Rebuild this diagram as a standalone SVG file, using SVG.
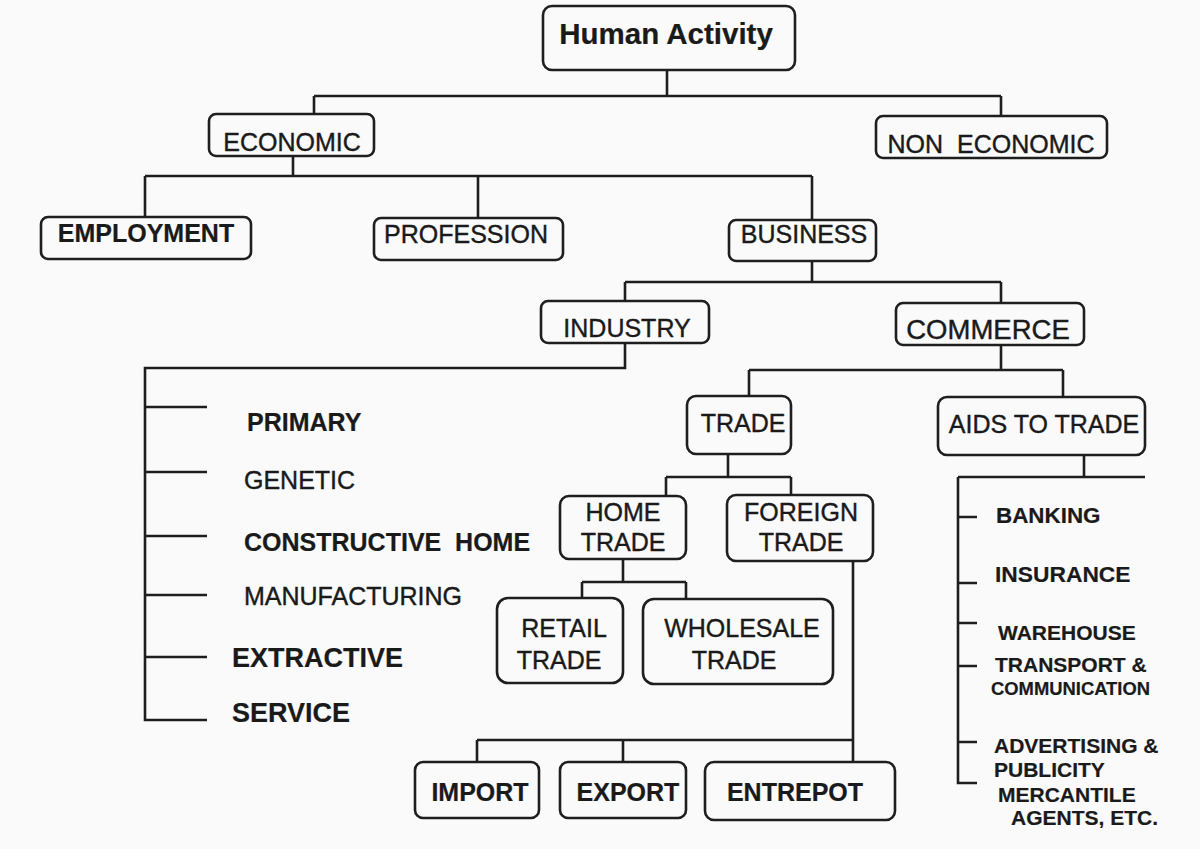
<svg xmlns="http://www.w3.org/2000/svg" width="1200" height="849" viewBox="0 0 1200 849">
<style>
.bg{fill:#fafafa}
.box{fill:none;stroke:#1e1e1e;stroke-width:2.6}
.ln{fill:none;stroke:#1e1e1e;stroke-width:2.6}
text{font-family:"Liberation Sans",Arial,sans-serif;fill:#1a1a1a;stroke:#1a1a1a;stroke-width:0.4}
.c{text-anchor:middle;font-size:25px}
.b{font-weight:bold;stroke-width:0.2}
.l{font-size:25px}
.s{font-size:21px;font-weight:bold;stroke-width:0.2}
</style>
<rect class="bg" x="0" y="0" width="1200" height="849"/>
<g id="connectors">
<path class="ln" d="M667,70 V96 M314,96 H1001 M314,96 V114 M1001,96 V116"/>
<path class="ln" d="M293,156 V176 M145,176 H812 M145,176 V217 M478,176 V218 M812,176 V220"/>
<path class="ln" d="M812,261 V282 M625,282 H1001 M625,282 V301 M1001,282 V303"/>
<path class="ln" d="M625,343 V368 H145 V720 H207 M145,407 H207 M145,472 H207 M145,536 H207 M145,595 H207 M145,657 H207"/>
<path class="ln" d="M1001,345 V370 M749,370 H1063 M749,370 V396 M1063,370 V397"/>
<path class="ln" d="M1084,455 V477 M958,477 H1145 M958,477 V783 H977 M958,517 H977 M958,583 H977 M958,623 H977 M958,666 H977 M958,742 H977"/>
<path class="ln" d="M728,454 V477 M666,477 H791 M666,477 V496 M791,477 V495"/>
<path class="ln" d="M623,559 V582 M582,582 H686 M582,582 V598 M686,582 V599"/>
<path class="ln" d="M853,561 V762 M477,740 H853 M477,740 V762 M623,740 V762"/>
</g>
<g id="human-activity"><rect class="box" x="543" y="6" width="252" height="64" rx="9"/><text class="b" x="666" y="44" text-anchor="middle" style="font-size:29.5px">Human Activity</text></g>
<g id="economic"><rect class="box" x="209" y="114" width="165" height="42" rx="7"/><text class="c" x="292" y="151">ECONOMIC</text></g>
<g id="non-economic"><rect class="box" x="876" y="116" width="231" height="42" rx="7"/><text class="c" x="991" y="153" xml:space="preserve">NON  ECONOMIC</text></g>
<g id="employment"><rect class="box" x="41" y="217" width="210" height="42" rx="7"/><text class="c b" x="146" y="242">EMPLOYMENT</text></g>
<g id="profession"><rect class="box" x="374" y="218" width="189" height="42" rx="7"/><text class="c" x="466" y="243">PROFESSION</text></g>
<g id="business"><rect class="box" x="729" y="220" width="147" height="41" rx="7"/><text class="c" x="804" y="243">BUSINESS</text></g>
<g id="industry"><rect class="box" x="541" y="301" width="168" height="42" rx="7"/><text class="c" x="627" y="337">INDUSTRY</text></g>
<g id="commerce"><rect class="box" x="896" y="303" width="188" height="42" rx="7"/><text class="c" x="988" y="339" style="font-size:27.5px">COMMERCE</text></g>
<g id="industry-list">
<text class="l b" x="247" y="431">PRIMARY</text>
<text class="l" x="244" y="489">GENETIC</text>
<text class="l b" x="244" y="551" xml:space="preserve">CONSTRUCTIVE  HOME</text>
<text class="l" x="244" y="605">MANUFACTURING</text>
<text class="b" x="232" y="667" style="font-size:27px">EXTRACTIVE</text>
<text class="b" x="232" y="722" style="font-size:27px">SERVICE</text>
</g>
<g id="trade"><rect class="box" x="687" y="396" width="104" height="58" rx="9"/><text class="c" x="743" y="432">TRADE</text></g>
<g id="aids-to-trade"><rect class="box" x="938" y="397" width="207" height="58" rx="9"/><text class="c" x="1044" y="433">AIDS TO TRADE</text></g>
<g id="aids-list">
<text class="s" x="996" y="523" style="font-size:22.4px">BANKING</text>
<text class="s" x="995" y="582" style="font-size:22.8px">INSURANCE</text>
<text class="s" x="998" y="640">WAREHOUSE</text>
<text class="s" x="995" y="672">TRANSPORT &amp;</text>
<text class="s" x="991" y="695" style="font-size:18.4px">COMMUNICATION</text>
<text class="s" x="994" y="753">ADVERTISING &amp;</text>
<text class="s" x="994" y="777">PUBLICITY</text>
<text class="s" x="998" y="802">MERCANTILE</text>
<text class="s" x="1011" y="825">AGENTS, ETC.</text>
</g>
<g id="home-trade"><rect class="box" x="560" y="496" width="126" height="63" rx="9"/><text class="c" x="623" y="521">HOME</text><text class="c" x="623" y="551">TRADE</text></g>
<g id="foreign-trade"><rect class="box" x="727" y="495" width="146" height="66" rx="9"/><text class="c" x="801" y="521">FOREIGN</text><text class="c" x="801" y="551">TRADE</text></g>
<g id="retail-trade"><rect class="box" x="497" y="598" width="126" height="85" rx="11"/><text class="c" x="564" y="637">RETAIL</text><text class="c" x="559" y="669">TRADE</text></g>
<g id="wholesale-trade"><rect class="box" x="643" y="599" width="190" height="85" rx="11"/><text class="c" x="742" y="637">WHOLESALE</text><text class="c" x="734" y="669">TRADE</text></g>
<g id="import"><rect class="box" x="415" y="762" width="124" height="56" rx="8"/><text class="c b" x="480" y="801">IMPORT</text></g>
<g id="export"><rect class="box" x="560" y="762" width="126" height="56" rx="8"/><text class="c b" x="628" y="801">EXPORT</text></g>
<g id="entrepot"><rect class="box" x="705" y="762" width="190" height="58" rx="9"/><text class="c b" x="795" y="801">ENTREPOT</text></g>
</svg>
